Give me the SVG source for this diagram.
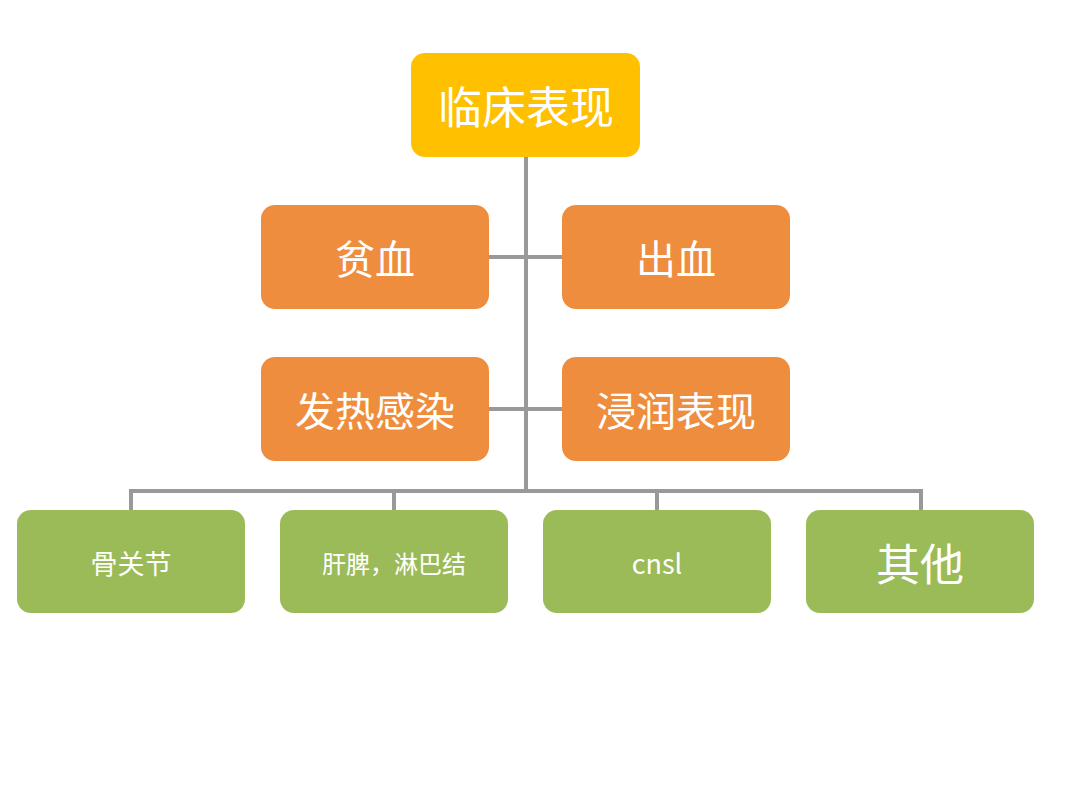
<svg xmlns="http://www.w3.org/2000/svg" width="1080" height="810" viewBox="0 0 1080 810">
<style>
.t{fill:#fff;font-family:"Noto Sans CJK SC","Liberation Sans",sans-serif;text-anchor:middle;dominant-baseline:central}
.o{fill:#EF8D3E}.g{fill:#9BBB59}
.c{stroke:#999;stroke-width:4;fill:none}
</style>
<rect width="1080" height="810" fill="#fff"/>
<g id="connectors">
<path class="c" d="M526 157V491M489 257H562M489 409H562M129 491H923M131 491V510M394 491V510M657 491V510M921 491V510"/>
</g>
<g id="n0"><rect x="411" y="53" width="229" height="104" rx="14" fill="#FFC000"/><text class="t" x="526" y="105" font-size="44">临床表现</text></g>
<g id="n1"><rect class="o" x="261" y="205" width="228" height="104" rx="14"/><text class="t" x="375" y="257" font-size="40">贫血</text></g>
<g id="n2"><rect class="o" x="562" y="205" width="228" height="104" rx="14"/><text class="t" x="676" y="257" font-size="40">出血</text></g>
<g id="n3"><rect class="o" x="261" y="357" width="228" height="104" rx="14"/><text class="t" x="375" y="409" font-size="40">发热感染</text></g>
<g id="n4"><rect class="o" x="562" y="357" width="228" height="104" rx="14"/><text class="t" x="676" y="409" font-size="40">浸润表现</text></g>
<g id="n5"><rect class="g" x="17" y="510" width="228" height="103" rx="14"/><text class="t" x="131" y="562" font-size="27">骨关节</text></g>
<g id="n6"><rect class="g" x="280" y="510" width="228" height="103" rx="14"/><text class="t" x="394" y="562" font-size="24">肝脾，淋巴结</text></g>
<g id="n7"><rect class="g" x="543" y="510" width="228" height="103" rx="14"/><text class="t" x="657" y="562" font-size="27" font-family="Liberation Sans,sans-serif">cnsl</text></g>
<g id="n8"><rect class="g" x="806" y="510" width="228" height="103" rx="14"/><text class="t" x="920" y="562" font-size="44">其他</text></g>
</svg>
